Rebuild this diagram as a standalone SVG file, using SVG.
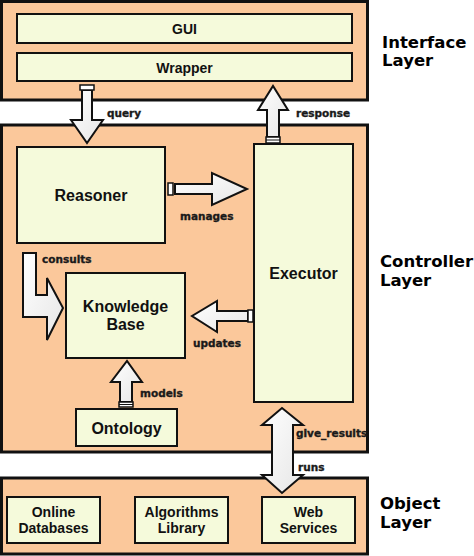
<svg xmlns="http://www.w3.org/2000/svg" width="474" height="556" viewBox="0 0 474 556">
<style>
.layer{fill:#FBC89B;stroke:#111;stroke-width:3}
.node{fill:#F5FADB;stroke:#111;stroke-width:2}
.arrow{fill:url(#ag);stroke:#111;stroke-width:2;stroke-linejoin:miter}
.cap{fill:#fff;stroke:#111;stroke-width:1.5}
.nl{font-family:"Liberation Sans",Arial,sans-serif;font-weight:bold;font-size:16px;fill:#111;text-anchor:middle}
.nl14{font-family:"Liberation Sans",Arial,sans-serif;font-weight:bold;font-size:14px;fill:#111;text-anchor:middle}
.el{font-family:"DejaVu Sans",sans-serif;font-weight:bold;font-size:10.5px;fill:#1a1a1a;stroke:#1a1a1a;stroke-width:0.35}
.ll{font-family:"DejaVu Sans",sans-serif;font-weight:bold;font-size:16.5px;fill:#000}
</style>
<defs>
<linearGradient id="ag" x1="0" y1="0" x2="1" y2="1">
<stop offset="0" stop-color="#ffffff"/>
<stop offset="1" stop-color="#e6e6e6"/>
</linearGradient>
</defs>
<g id="interface-layer">
<rect class="layer" x="1.5" y="1.5" width="366" height="98.5"/>
<text class="ll" x="382" y="48">Interface</text>
<text class="ll" x="382" y="66">Layer</text>
</g>
<g id="controller-layer">
<rect class="layer" x="1.5" y="125" width="366" height="327"/>
<text class="ll" x="380" y="267">Controller</text>
<text class="ll" x="380" y="286">Layer</text>
</g>
<g id="object-layer">
<rect class="layer" x="1.5" y="478" width="366" height="76"/>
<text class="ll" x="380" y="509">Object</text>
<text class="ll" x="380" y="528">Layer</text>
</g>
<g id="gui"><rect class="node" x="17" y="14" width="335" height="29"/><text class="nl14" x="184.5" y="34">GUI</text></g>
<g id="wrapper"><rect class="node" x="17" y="53" width="335" height="28"/><text class="nl14" x="184.5" y="73">Wrapper</text></g>
<g id="reasoner"><rect class="node" x="17" y="147" width="148" height="96"/><text class="nl" x="91" y="201">Reasoner</text></g>
<g id="executor"><rect class="node" x="254" y="144" width="99" height="258"/><text class="nl" x="303.5" y="279">Executor</text></g>
<g id="knowledge-base"><rect class="node" x="66" y="273" width="119" height="85"/><text class="nl" x="125.5" y="312">Knowledge</text><text class="nl" x="125.5" y="330">Base</text></g>
<g id="ontology"><rect class="node" x="76" y="409" width="101" height="37"/><text class="nl" x="126.5" y="434">Ontology</text></g>
<g id="online-databases"><rect class="node" x="7" y="497" width="93" height="46"/><text class="nl14" x="53.5" y="517">Online</text><text class="nl14" x="53.5" y="533">Databases</text></g>
<g id="algorithms-library"><rect class="node" x="135" y="497" width="93" height="46"/><text class="nl14" x="181.5" y="517">Algorithms</text><text class="nl14" x="181.5" y="533">Library</text></g>
<g id="web-services"><rect class="node" x="262" y="497" width="93" height="46"/><text class="nl14" x="308.5" y="517">Web</text><text class="nl14" x="308.5" y="533">Services</text></g>
<g id="connectors">
<path class="arrow" d="M82,90 H92 V120 H103 L87,143 L71,120 H82 Z"/>
<rect class="cap" x="80" y="85" width="14" height="5"/>
<text class="el" x="107" y="117">query</text>
<path class="arrow" d="M267,137 V110 H258 L273,86 L288,110 H279 V137 Z"/>
<rect class="cap" x="266" y="137" width="14" height="6"/>
<line x1="266" y1="140" x2="280" y2="140" stroke="#111" stroke-width="1"/>
<text class="el" x="296" y="117">response</text>
<path class="arrow" d="M175,184 H212 V173 L247,189 L212,205 V194 H175 Z"/>
<rect class="cap" x="168" y="183" width="5" height="12"/>
<text class="el" x="180" y="220">manages</text>
<path class="arrow" d="M23,253 H36 V295 H47 V278 L63,308 L47,340 V317 H23 Z"/>
<text class="el" x="42" y="263">consults</text>
<path class="arrow" d="M248,311 H217 V301 L192,316 L217,332 V321 H248 Z"/>
<rect class="cap" x="248" y="310" width="5" height="12"/>
<text class="el" x="193" y="347">updates</text>
<path class="arrow" d="M120,402 V382 H111 L127,361 L142,382 H132 V402 Z"/>
<rect class="cap" x="119" y="402" width="14" height="5"/>
<line x1="119" y1="404.5" x2="133" y2="404.5" stroke="#111" stroke-width="1"/>
<text class="el" x="140" y="397">models</text>
<path class="arrow" d="M272,425 H262 L282,408 L303,425 H293 V475 H303 L282,493 L262,475 H272 Z"/>
<text class="el" x="296" y="437">give_results</text>
<text class="el" x="298" y="471">runs</text>
</g>
</svg>
